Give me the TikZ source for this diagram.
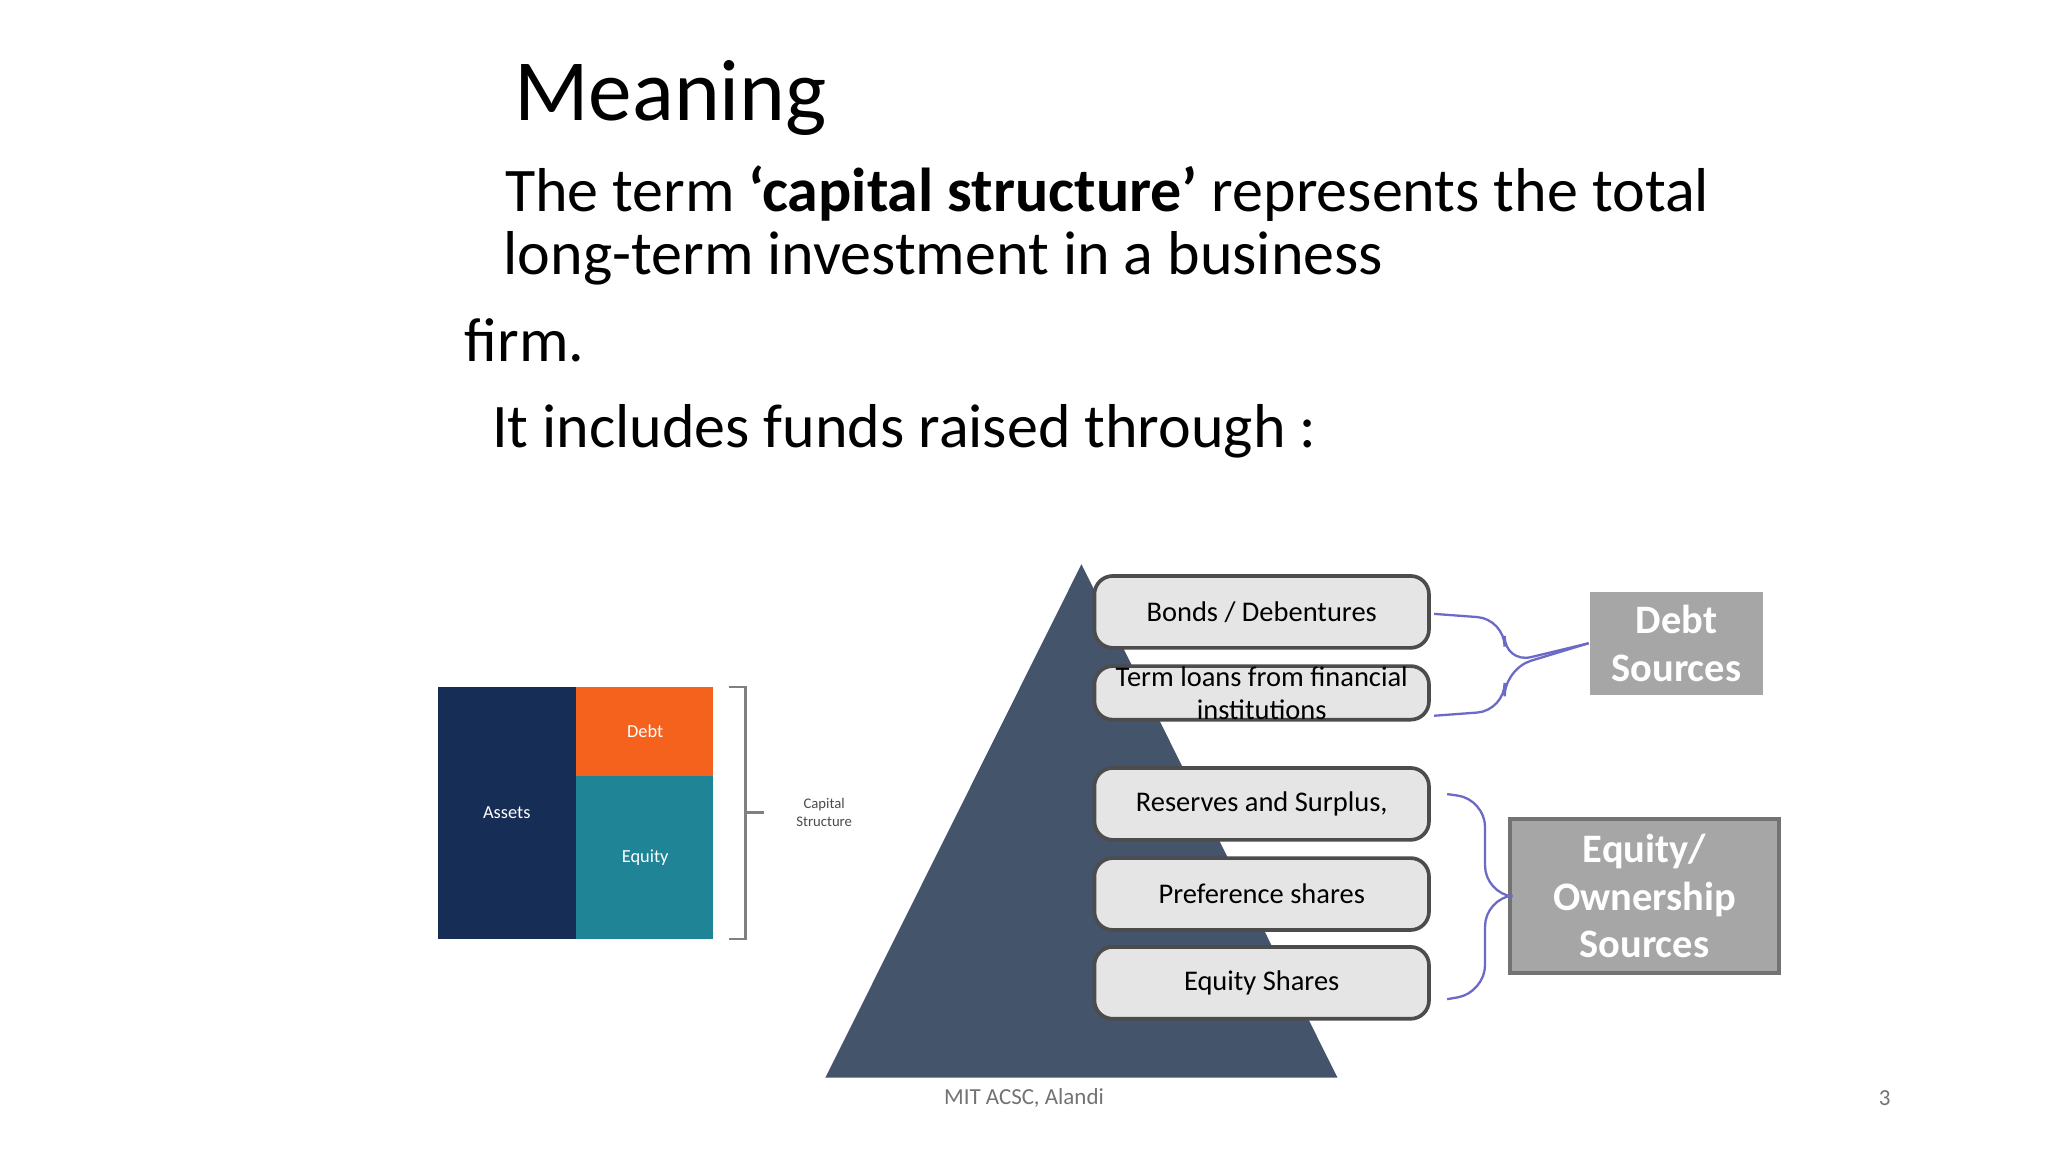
\documentclass[tikz,border=0pt]{standalone}
\usepackage{fontspec}
\setmainfont{Carlito}
\begin{document}
\begin{tikzpicture}[x=0.01cm,y=-0.01cm,
  txt/.style={anchor=base west,inner sep=0,font=\fontsize{13.5pt}{16pt}\selectfont},
  lvl/.style={draw=black!70,line width=0.8pt,rounded corners=4pt,fill=black!10,minimum width=2.56cm,align=center,font=\fontsize{6.2pt}{7.2pt}\selectfont,inner sep=0},
  src/.style={fill=black!35,text=white,font=\bfseries\fontsize{8.8pt}{10.4pt}\selectfont,align=center,inner sep=0},
  brc/.style={draw=blue!45!gray!80,line width=0.5pt,rounded corners=6pt}]
\useasboundingbox (0,0) rectangle (1568,882);
\fill[white] (0,0) rectangle (1568,882);
\node[txt,font=\fontsize{19pt}{23pt}\selectfont] (title) at (393,92) {Meaning};
\node[txt] (l1) at (386,162) {The term \textbf{{\char96}capital structure'} represents the total};
\node[txt] (l2) at (385,210) {long-term investment in a business};
\node[txt] (l3) at (355,277) {firm.};
\node[txt] (l4) at (376,343) {It includes funds raised through :};
% small chart
\fill[fill={rgb,255:red,22;green,45;blue,85}] (335,526) rectangle (441,719);
\fill[fill={rgb,255:red,245;green,98;blue,30}] (441,526) rectangle (546,594);
\fill[fill={rgb,255:red,30;green,132;blue,150}] (441,594) rectangle (546,719);
\node[text=white,font=\fontsize{4pt}{5pt}\selectfont] (assets) at (388,622) {Assets};
\node[text=white,font=\fontsize{4pt}{5pt}\selectfont] (debt) at (494,560) {Debt};
\node[text=white,font=\fontsize{4pt}{5pt}\selectfont] (equity) at (494,657) {Equity};
\draw[black!50,line width=0.6pt] (558,526) -- (571,526) -- (571,719) -- (558,719) (571,622) -- (585,622);
\node[align=center,text=black!70,font=\fontsize{3.2pt}{3.8pt}\selectfont] (cs) at (631,622) {Capital\\Structure};
% pyramid
\fill[fill={rgb,255:red,68;green,84;blue,106}] (828,432) -- (1024,825) -- (632,825) -- cycle;
\node[lvl,minimum height=0.55cm] (b1) at (966,468.5) {Bonds / Debentures};
\node[lvl,minimum height=0.41cm] (b2) at (966,530.5) {Term loans from financial\\institutions};
\node[lvl,minimum height=0.55cm] (b3) at (966,615.5) {Reserves and Surplus,};
\node[lvl,minimum height=0.55cm] (b4) at (966,684.5) {Preference shares};
\node[lvl,minimum height=0.55cm] (b5) at (966,752.5) {Equity Shares};
\node[src,minimum width=1.33cm,minimum height=0.79cm] (ds) at (1283.5,492.5) {Debt\\Sources};
\node[src,draw=black!55,line width=0.8pt,minimum width=2.06cm,minimum height=1.18cm] (es) at (1259,686) {Equity/\\Ownership\\Sources};
\draw[brc] (1098,470) -- (1152,474) -- (1152,508) -- (ds.west);
\draw[brc] (1098,548) -- (1152,544) -- (1152,512) -- (ds.west);
\draw[brc] (1108,608) -- (1137,612) -- (1137,684) -- (es.west);
\draw[brc] (1108,765) -- (1137,760) -- (1137,688) -- (es.west);
\node[text=black!55,font=\fontsize{5pt}{6pt}\selectfont] (foot) at (784,841) {MIT ACSC, Alandi};
\node[text=black!55,font=\fontsize{5pt}{6pt}\selectfont] (num) at (1443,841) {3};
\end{tikzpicture}
\end{document}
